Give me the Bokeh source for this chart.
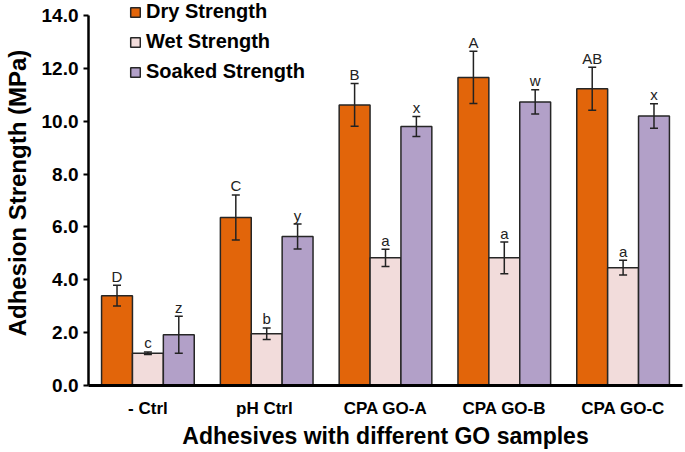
#===========================
#       Bokeh-Related Imports
from bokeh.core.properties import value
from bokeh.embed import file_html
from bokeh.models import (ColumnDataSource, FactorRange, FixedTicker, Legend,
                          LegendItem, NumeralTickFormatter, Range1d, TeeHead,
                          Whisker)
from bokeh.plotting import figure
from bokeh.resources import INLINE
from bokeh.transform import dodge

#-- data
categories = ["- Ctrl", "pH  Ctrl", "CPA GO-A", "CPA GO-B", "CPA GO-C"]

dry = [3.40, 6.36, 10.62, 11.66, 11.23]
dry_err = [0.39, 0.85, 0.81, 0.99, 0.81]
dry_letters = ["D", "C", "B", "A", "AB"]

wet = [1.22, 1.96, 4.83, 4.83, 4.46]
wet_err = [0.05, 0.22, 0.33, 0.60, 0.28]
wet_letters = ["c", "b", "a", "a", "a"]

soaked = [1.92, 5.64, 9.80, 10.73, 10.20]
soaked_err = [0.70, 0.47, 0.38, 0.46, 0.46]
soaked_letters = ["z", "y", "x", "w", "x"]

y_ticks = [0, 2, 4, 6, 8, 10, 12, 14]

FONT = "Liberation Sans"
EDGE = "#262626"


def make_source(vals, errs, letters):
    return ColumnDataSource(data=dict(
        cat=categories,
        val=vals,
        upper=[v + e for v, e in zip(vals, errs)],
        lower=[v - e for v, e in zip(vals, errs)],
        letter=letters,
    ))


#-- range goes a bit past 14 so the legend has room above the axis top
p = figure(
    x_range=FactorRange(*categories),
    y_range=Range1d(0, 14.57),
    width=685, height=452,
    output_backend="svg",
    toolbar_location=None,
    min_border_left=82, min_border_right=3,
    min_border_top=0, min_border_bottom=67,
)

series = [
    ("Dry Strength", dry, dry_err, dry_letters, "#E2650A", -0.26),
    ("Wet Strength", wet, wet_err, wet_letters, "#F2DCDB", 0.0),
    ("Soaked Strength", soaked, soaked_err, soaked_letters, "#B2A0C8", 0.26),
]

items = []
for name, vals, errs, letters, color, off in series:
    src = make_source(vals, errs, letters)
    xpos = dodge("cat", off, range=p.x_range)
    r = p.vbar(x=xpos, top="val", width=0.26, source=src,
               fill_color=color, line_color=EDGE, line_width=1.5)
    items.append(LegendItem(label=name, renderers=[r]))

    #-- error bars (drawn on top of the bars)
    w = Whisker(base=xpos, upper="upper", lower="lower", source=src,
                level="overlay",
                line_color="#222222", line_width=1.5,
                upper_head=TeeHead(size=8, line_color="#222222", line_width=1.5),
                lower_head=TeeHead(size=8, line_color="#222222", line_width=1.5))
    p.add_layout(w)

    #-- significance letters
    p.text(x=xpos, y="upper", text="letter", source=src,
           text_font=value(FONT), text_font_size="15px", text_color="#222222",
           text_align="center", text_baseline="alphabetic", y_offset=-9)

#-- legend
legend = Legend(items=items, location=(41, 302))
legend.glyph_width = 12
legend.glyph_height = 12
legend.label_text_font = FONT
legend.label_text_font_style = "bold"
legend.label_text_font_size = "20px"
legend.label_text_color = "black"
legend.label_standoff = 5
legend.spacing = 7
legend.padding = 0
legend.margin = 0
legend.border_line_color = None
legend.background_fill_alpha = 0
p.add_layout(legend, "center")

#-- axes look
p.xgrid.grid_line_color = None
p.ygrid.grid_line_color = None
p.outline_line_color = None

p.yaxis.ticker = FixedTicker(ticks=y_ticks)
p.yaxis.formatter = NumeralTickFormatter(format="0.0")
p.yaxis.bounds = (0, 14)
p.yaxis.axis_line_width = 2.5
p.yaxis.axis_line_color = "black"
p.yaxis.major_tick_line_width = 2
p.yaxis.major_tick_in = 0
p.yaxis.major_tick_out = 5
p.yaxis.minor_tick_line_color = None
p.yaxis.major_label_standoff = 5
p.yaxis.axis_label = "Adhesion Strength (MPa)"
p.yaxis.axis_label_standoff = 8
p.yaxis.axis_label_text_font_size = "24px"

p.xaxis.axis_line_width = 3
p.xaxis.axis_line_color = "black"
p.xaxis.major_tick_line_color = None
p.xaxis.minor_tick_line_color = None
p.xaxis.major_label_standoff = 7
p.xaxis.axis_label = "Adhesives with different GO samples"
p.xaxis.axis_label_standoff = 2
p.xaxis.axis_label_text_font_size = "23px"

for ax in (p.xaxis, p.yaxis):
    ax.major_label_text_font = FONT
    ax.major_label_text_font_style = "bold"
    ax.major_label_text_color = "black"
    ax.axis_label_text_font = FONT
    ax.axis_label_text_font_style = "bold"
    ax.axis_label_text_color = "black"
p.yaxis.major_label_text_font_size = "19px"
p.xaxis.major_label_text_font_size = "17px"

open("out.html", "w").write(file_html(p, INLINE))
